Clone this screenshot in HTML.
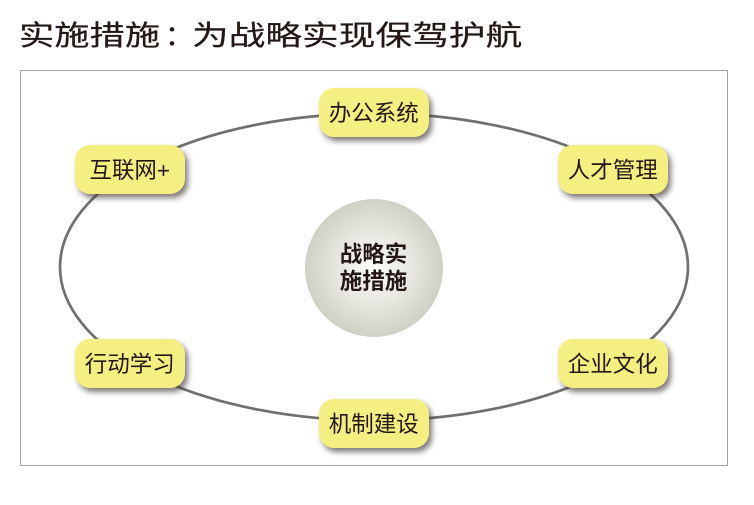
<!DOCTYPE html>
<html lang="zh">
<head>
<meta charset="utf-8">
<style>
html,body{margin:0;padding:0;background:#fff;}
body{width:754px;height:505px;overflow:hidden;position:relative;font-family:"Liberation Sans","Noto Sans CJK SC",sans-serif;color:#231815;}
svg{position:absolute;left:0;top:0;}
.title{position:absolute;top:17px;font-size:28px;line-height:38px;white-space:nowrap;font-weight:400;transform-origin:0 50%;-webkit-text-stroke:.2px #231815;}
.n{position:absolute;width:110.5px;height:49px;border-radius:15px;background:#f4ef80;box-shadow:3px 4px 6px rgba(60,50,50,.65);text-align:center;font-size:22.5px;line-height:51px;white-space:nowrap;}
.c{position:absolute;left:305px;top:199px;width:138px;height:138px;border-radius:50%;background:radial-gradient(circle at 50% 50%,#fbfbf8 0%,#e9e9e2 35%,#c9c9bd 80%,#c2c2b5 100%);}
.ct{position:absolute;left:304.5px;top:241px;width:138px;text-align:center;font-size:22.5px;line-height:27px;font-weight:700;}
</style>
</head>
<body>
<div class="title" style="left:19px;transform:scaleX(1.26);">实施措施</div>
<div class="title" style="left:165px;">：</div>
<div class="title" style="left:192px;transform:scaleX(1.31);">为战略实现保驾护航</div>
<svg width="754" height="505" viewBox="0 0 754 505">
<rect x="20.5" y="70.5" width="707" height="395" fill="#fff" stroke="#a5a5a5" stroke-width="1"/>
<ellipse cx="374" cy="267" rx="314" ry="153.5" fill="none" stroke="#707070" stroke-width="2.7"/>
</svg>
<div class="c"></div>
<div class="ct">战略实<br>施措施</div>
<div class="n" style="left:318.5px;top:87.5px;">办公系统</div>
<div class="n" style="left:74.5px;top:145px;">互联网+</div>
<div class="n" style="left:557.5px;top:145px;">人才管理</div>
<div class="n" style="left:74.5px;top:339px;">行动学习</div>
<div class="n" style="left:557.5px;top:339px;">企业文化</div>
<div class="n" style="left:318.5px;top:399px;">机制建设</div>
</body>
</html>
